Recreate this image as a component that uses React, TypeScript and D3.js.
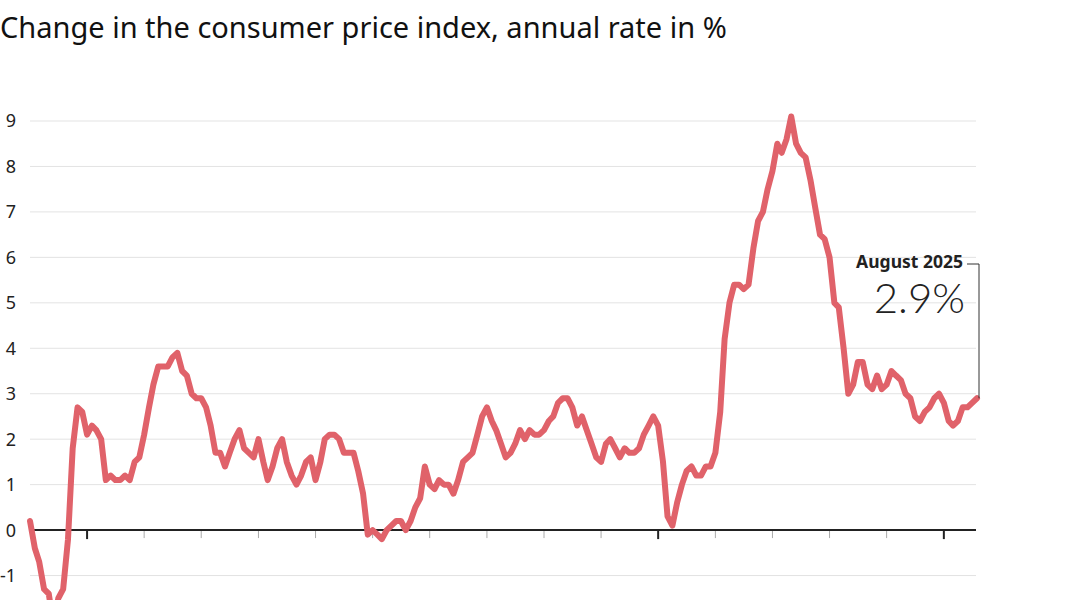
import React, { useRef, useEffect } from 'react';
import * as d3 from 'd3';

// Monthly annual rate of change in %, January 2009 to August 2025
const cpi2009 = [0.2, -0.4, -0.7, -1.3, -1.4, -2.1, -1.5, -1.3, -0.2, 1.8, 2.7, 2.6];
const cpi2010 = [2.1, 2.3, 2.2, 2.0, 1.1, 1.2, 1.1, 1.1, 1.2, 1.1, 1.5, 1.6];
const cpi2011 = [2.1, 2.7, 3.2, 3.6, 3.6, 3.6, 3.8, 3.9, 3.5, 3.4, 3.0, 2.9];
const cpi2012 = [2.9, 2.7, 2.3, 1.7, 1.7, 1.4, 1.7, 2.0, 2.2, 1.8, 1.7, 1.6];
const cpi2013 = [2.0, 1.5, 1.1, 1.4, 1.8, 2.0, 1.5, 1.2, 1.0, 1.2, 1.5, 1.6];
const cpi2014 = [1.1, 1.5, 2.0, 2.1, 2.1, 2.0, 1.7, 1.7, 1.7, 1.3, 0.8, -0.1];
const cpi2015 = [0.0, -0.1, -0.2, 0.0, 0.1, 0.2, 0.2, 0.0, 0.2, 0.5, 0.7, 1.4];
const cpi2016 = [1.0, 0.9, 1.1, 1.0, 1.0, 0.8, 1.1, 1.5, 1.6, 1.7, 2.1, 2.5];
const cpi2017 = [2.7, 2.4, 2.2, 1.9, 1.6, 1.7, 1.9, 2.2, 2.0, 2.2, 2.1, 2.1];
const cpi2018 = [2.2, 2.4, 2.5, 2.8, 2.9, 2.9, 2.7, 2.3, 2.5, 2.2, 1.9, 1.6];
const cpi2019 = [1.5, 1.9, 2.0, 1.8, 1.6, 1.8, 1.7, 1.7, 1.8, 2.1, 2.3, 2.5];
const cpi2020 = [2.3, 1.5, 0.3, 0.1, 0.6, 1.0, 1.3, 1.4, 1.2, 1.2, 1.4, 1.4];
const cpi2021 = [1.7, 2.6, 4.2, 5.0, 5.4, 5.4, 5.3, 5.4, 6.2, 6.8, 7.0, 7.5];
const cpi2022 = [7.9, 8.5, 8.3, 8.6, 9.1, 8.5, 8.3, 8.2, 7.7, 7.1, 6.5, 6.4];
const cpi2023 = [6.0, 5.0, 4.9, 4.0, 3.0, 3.2, 3.7, 3.7, 3.2, 3.1, 3.4, 3.1];
const cpi2024 = [3.2, 3.5, 3.4, 3.3, 3.0, 2.9, 2.5, 2.4, 2.6, 2.7, 2.9, 3.0];
const cpi2025 = [2.8, 2.4, 2.3, 2.4, 2.7, 2.7, 2.8, 2.9];

const firstMonth = new Date(2009, 0, 1);
const yTicks = [-1, 0, 1, 2, 3, 4, 5, 6, 7, 8, 9];
const tickYears = d3.range(2010, 2026);
const majorYears = [2010, 2020, 2025];

const titleText = 'Change in the consumer price index, annual rate in %';
const latestLabel = 'August 2025';
const latestValue = 2.9;

const WIDTH = 1065;
const HEIGHT = 600;
const FONT = '"Noto Sans", "Open Sans", sans-serif';
const LIGHT_FONT = 'Lato, "Noto Sans", sans-serif';
const LINE_COLOR = '#e0626a';

const App: React.FC = () => {
  const svgRef = useRef<SVGSVGElement>(null);

  useEffect(() => {
    if (!svgRef.current) return;
    document.body.style.margin = '0';

    const svg = d3.select(svgRef.current);
    svg.selectAll('*').remove();

    const values = [
      ...cpi2009, ...cpi2010, ...cpi2011, ...cpi2012, ...cpi2013, ...cpi2014,
      ...cpi2015, ...cpi2016, ...cpi2017, ...cpi2018, ...cpi2019, ...cpi2020,
      ...cpi2021, ...cpi2022, ...cpi2023, ...cpi2024, ...cpi2025
    ];
    const data = values.map((v, i) => ({
      date: d3.timeMonth.offset(firstMonth, i),
      value: v
    }));
    const last = data[data.length - 1];

    const xScale = d3.scaleTime()
      .domain([firstMonth, last.date])
      .range([30, 977]);

    const yScale = d3.scaleLinear()
      .domain([-2, 9])
      .range([621, 121]);

    const [x0, x1] = xScale.range();

    // title
    svg.append('text')
      .attr('x', 0)
      .attr('y', 38)
      .style('font-family', FONT)
      .style('font-size', '29px')
      .style('fill', '#111')
      .text(titleText);

    // horizontal grid
    svg.append('g')
      .selectAll('line')
      .data(yTicks.filter(d => d !== 0))
      .join('line')
      .attr('x1', x0)
      .attr('x2', x1 - 1)
      .attr('y1', d => yScale(d))
      .attr('y2', d => yScale(d))
      .attr('stroke', '#e3e3e3')
      .attr('stroke-width', 1);

    // y labels
    svg.append('g')
      .selectAll('text')
      .data(yTicks)
      .join('text')
      .attr('x', 16)
      .attr('y', d => yScale(d))
      .attr('dy', '0.36em')
      .attr('text-anchor', 'end')
      .style('font-family', FONT)
      .style('font-size', '18px')
      .style('fill', '#222')
      .text(d => d);

    // year ticks under the zero line
    svg.append('g')
      .selectAll('line')
      .data(tickYears)
      .join('line')
      .attr('x1', d => xScale(new Date(d, 0, 1)))
      .attr('x2', d => xScale(new Date(d, 0, 1)))
      .attr('y1', yScale(0))
      .attr('y2', d => yScale(0) + (majorYears.includes(d) ? 9 : 8))
      .attr('stroke', d => (majorYears.includes(d) ? '#222' : '#aaa'))
      .attr('stroke-width', d => (majorYears.includes(d) ? 2 : 1));

    // zero line
    svg.append('line')
      .attr('x1', x0)
      .attr('x2', x1 - 1)
      .attr('y1', yScale(0))
      .attr('y2', yScale(0))
      .attr('stroke', '#222')
      .attr('stroke-width', 2);

    const line = d3.line<{ date: Date; value: number }>()
      .x(d => xScale(d.date))
      .y(d => yScale(d.value));

    svg.append('path')
      .datum(data)
      .attr('fill', 'none')
      .attr('stroke', LINE_COLOR)
      .attr('stroke-width', 6)
      .attr('stroke-linejoin', 'round')
      .attr('stroke-linecap', 'round')
      .attr('d', line);

    // latest value callout
    const lx = xScale(last.date) + 2;
    const ly = yScale(latestValue);
    const labelY = 264;

    svg.append('path')
      .attr('d', `M${lx - 12},${labelY}H${lx}V${ly}`)
      .attr('fill', 'none')
      .attr('stroke', '#333')
      .attr('stroke-width', 1);

    svg.append('text')
      .attr('x', lx - 16)
      .attr('y', labelY + 4)
      .attr('text-anchor', 'end')
      .style('font-family', FONT)
      .style('font-size', '17.5px')
      .style('font-weight', 700)
      .style('fill', '#222')
      .text(latestLabel);

    svg.append('text')
      .attr('x', lx - 14)
      .attr('y', 313)
      .attr('text-anchor', 'end')
      .style('font-family', LIGHT_FONT)
      .style('font-size', '42px')
      .style('font-weight', 300)
      .style('fill', '#222')
      .text(`${latestValue}%`);
  }, []);

  return (
    <svg
      ref={svgRef}
      width={WIDTH}
      height={HEIGHT}
      style={{ display: 'block', background: '#ffffff' }}
    />
  );
};

export default App;
